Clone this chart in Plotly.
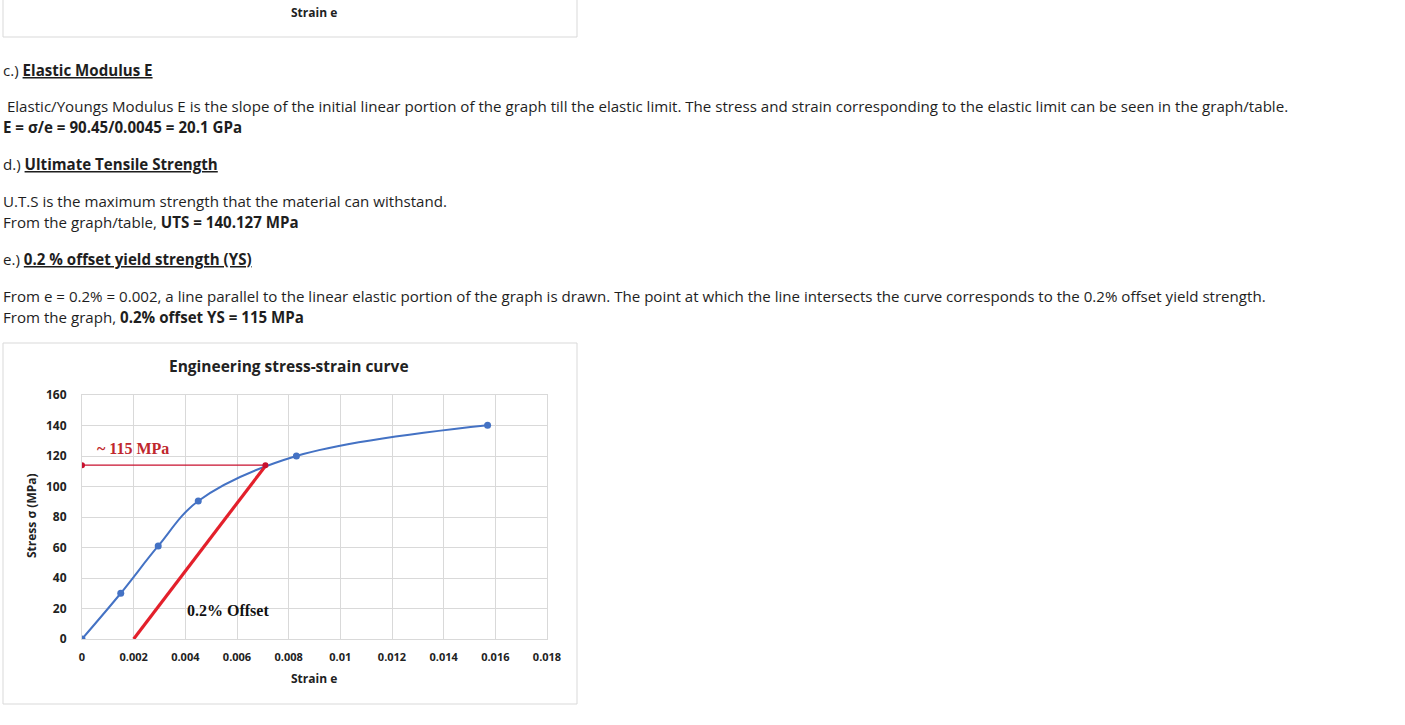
import plotly.graph_objects as go

# dados da curva tensão-deformação
strain = [0, 0.0015, 0.00295, 0.0045, 0.0083, 0.0157]
stress = [0, 30, 61, 90.5, 120, 140.2]

# linha de offset 0.2%
offset_strain = [0.002, 0.0071]
offset_stress = [0, 113.5]

# linha horizontal do limite de escoamento
ys_strain = [0, 0.0071]
ys_stress = [114, 114]

x_ticks = [0, 0.002, 0.004, 0.006, 0.008, 0.01, 0.012, 0.014, 0.016, 0.018]
x_tick_text = ["0", "0.002", "0.004", "0.006", "0.008", "0.01", "0.012", "0.014", "0.016", "0.018"]
y_ticks = [0, 20, 40, 60, 80, 100, 120, 140, 160]

W, H = 1405, 725


def px(x):
    return x / W


def py(y):
    return 1 - y / H


TXT = "Open Sans"
TXT_SIZE = 15.1
TXT_COLOR = "#1e1e1e"

linhas = [
    (1, 70, "c.) <b><u>Elastic Modulus E</u></b>"),
    (1, 106, " Elastic/Youngs Modulus E is the slope of the initial linear portion of the graph till the elastic limit. "
             "The stress and strain corresponding to the elastic limit can be seen in the graph/table."),
    (1, 127, "<b>E = σ/e = 90.45/0.0045 = 20.1 GPa</b>"),
    (1, 164, "d.) <b><u>Ultimate Tensile Strength</u></b>"),
    (1, 201, "U.T.S is the maximum strength that the material can withstand."),
    (1, 222, "From the graph/table, <b>UTS = 140.127 MPa</b>"),
    (1, 259, "e.) <b><u>0.2 % offset yield strength (YS)</u></b>"),
    (1, 296, "From e = 0.2% = 0.002, a line parallel to the linear elastic portion of the graph is drawn. "
             "The point at which the line intersects the curve corresponds to the 0.2% offset yield strength."),
    (1, 317, "From the graph, <b>0.2% offset YS = 115 MPa</b>"),
]

fig = go.Figure()

fig.add_trace(go.Scatter(
    x=strain, y=stress, mode="lines+markers",
    line=dict(color="#4472C4", width=2, shape="spline", smoothing=1.0),
    marker=dict(color="#4472C4", size=7),
    hoverinfo="skip", showlegend=False
))

fig.add_trace(go.Scatter(
    x=offset_strain, y=offset_stress, mode="lines",
    line=dict(color="#E3202B", width=3.2),
    hoverinfo="skip", showlegend=False
))

fig.add_trace(go.Scatter(
    x=ys_strain, y=ys_stress, mode="lines+markers",
    line=dict(color="#C8102E", width=1.2),
    marker=dict(color="#C8102E", size=6),
    hoverinfo="skip", showlegend=False
))

annotations = []
for x, y, t in linhas:
    annotations.append(dict(
        x=px(x), y=py(y), xref="paper", yref="paper", text=t, showarrow=False,
        xanchor="left", yanchor="middle", align="left",
        font=dict(family=TXT, size=TXT_SIZE, color=TXT_COLOR)
    ))

# legenda "Strain e" do gráfico anterior
annotations.append(dict(
    x=px(314), y=py(12), xref="paper", yref="paper", text="<b>Strain e</b>", showarrow=False,
    xanchor="center", yanchor="middle", font=dict(family=TXT, size=12, color="#222")
))

# títulos do gráfico
annotations.append(dict(
    x=px(289), y=py(366), xref="paper", yref="paper", text="<b>Engineering stress-strain curve</b>",
    showarrow=False, xanchor="center", yanchor="middle",
    font=dict(family=TXT, size=15.5, color="#222")
))
annotations.append(dict(
    x=px(314), y=py(678), xref="paper", yref="paper", text="<b>Strain e</b>", showarrow=False,
    xanchor="center", yanchor="middle", font=dict(family=TXT, size=12, color="#222")
))
annotations.append(dict(
    x=px(31), y=py(516), xref="paper", yref="paper", text="<b>Stress σ (MPa)</b>", showarrow=False,
    textangle=-90, xanchor="center", yanchor="middle", font=dict(family=TXT, size=12, color="#222")
))

# rótulos dentro do gráfico
annotations.append(dict(
    x=0.00050, y=124.8, xref="x", yref="y", text="<b>~ 115 MPa</b>", showarrow=False,
    xanchor="left", yanchor="middle", font=dict(family="Liberation Serif", size=16, color="#C0272D")
))
annotations.append(dict(
    x=0.00398, y=18.5, xref="x", yref="y", text="<b>0.2% Offset</b>", showarrow=False,
    xanchor="left", yanchor="middle", font=dict(family="Liberation Serif", size=16, color="#111")
))

shapes = [
    dict(type="rect", xref="paper", yref="paper", x0=px(3), x1=px(577), y0=py(343), y1=py(704),
         line=dict(color="#D9D9D9", width=1)),
    dict(type="rect", xref="paper", yref="paper", x0=px(3), x1=px(577), y0=py(-10), y1=py(37),
         line=dict(color="#D9D9D9", width=1)),
]

fig.update_layout(
    width=W, height=H,
    margin=dict(l=0, r=0, t=0, b=0),
    paper_bgcolor="white", plot_bgcolor="white",
    annotations=annotations, shapes=shapes,
    xaxis=dict(
        domain=[px(82), px(547)], range=[0, 0.018], automargin=False,
        tickvals=x_ticks, ticktext=x_tick_text,
        showgrid=True, gridcolor="#D9D9D9", gridwidth=1,
        showline=True, linecolor="#D9D9D9", mirror=True, zeroline=False,
        ticks="outside", ticklen=8, tickcolor="rgba(0,0,0,0)",
        tickfont=dict(family=TXT, size=11, color="#222", weight="bold"),
    ),
    yaxis=dict(
        domain=[py(639), py(395)], range=[0, 160], automargin=False,
        tickvals=y_ticks,
        showgrid=True, gridcolor="#D9D9D9", gridwidth=1,
        showline=True, linecolor="#D9D9D9", mirror=True, zeroline=False,
        ticks="outside", ticklen=12, tickcolor="rgba(0,0,0,0)",
        tickfont=dict(family=TXT, size=12, color="#222", weight="bold"),
    ),
)

# tira a margem padrão do body para a figura ocupar a janela inteira
fig.write_html("out.html", config={"displayModeBar": False},
               post_script="document.body.style.margin='0';")
